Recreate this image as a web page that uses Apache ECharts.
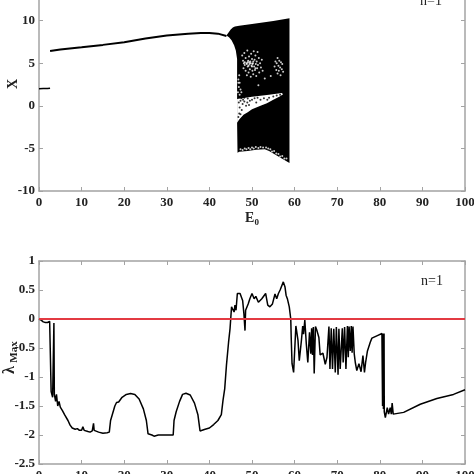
<!DOCTYPE html>
<html>
<head>
<meta charset="utf-8">
<style>html,body{margin:0;padding:0;background:#fff;overflow:hidden}#c{width:474px;height:474px;filter:blur(0.45px)}</style>
<script src="https://cdn.jsdelivr.net/npm/echarts@6/dist/echarts.min.js"></script>
</head>
<body>
<div id="c"></div>
<script>
const xTicks = [0,10,20,30,40,50,60,70,80,90,100];
const shortBranch = [[0,2],[1,2.02],[2,2.04],[2.6,2.05]];
const stableBranch = [[2.6,6.42],[5,6.6],[10,6.87],[15,7.15],[20,7.47],[25,7.9],[30,8.24],[35,8.47],[38,8.55],[40,8.55],[42,8.47],[44,8.2]];
const bandOutline = [[44,8.25],[44.5,8.6],[45,8.95],[45.5,9.2],[46,9.32],[47,9.4],[50,9.6],[55,9.95],[58.8,10.28],[58.8,-6.7],[58.2,-6.55],[57,-6.2],[56,-5.9],[55,-5.6],[54,-5.3],[53,-5.1],[51,-5.15],[49,-5.3],[47,-5.4],[46.6,-5.5],[46.5,-2],[46.5,5.5],[46.2,6.5],[45.8,7.1],[45.2,7.7],[44.6,8.05],[44,8.25]];
const wedge = [[46.5,-2],[47,-1.6],[48,-1.05],[49,-0.75],[50,-0.4],[52,0],[53.5,0.3],[55,0.7],[56.5,1.1],[57.3,1.35],[57,1.5],[54,1.3],[50,1.05],[46.5,0.8]];
const whiteSpeck = [[47.7,5.9],[47.9,5.3],[48,4.4],[48.2,6.2],[48.3,4.8],[48.5,5.6],[48.5,4.1],[48.7,5],[48.8,3.6],[48.9,6.5],[49,4.6],[49.1,5.3],[49.2,3.9],[49.3,5.8],[49.4,4.9],[49.5,4.3],[49.6,5.2],[49.7,3.4],[49.8,6.1],[49.9,4.7],[50,5.5],[50.1,4.1],[50.2,5],[50.3,3.7],[50.4,6.4],[50.5,4.6],[50.6,5.4],[50.7,4.2],[50.8,5.9],[50.9,4.9],[51,3.5],[51.1,5.2],[51.2,4.4],[51.3,6.3],[51.4,4.8],[51.6,5.6],[51.7,3.9],[51.9,5],[52.1,4.5],[52.3,5.4],[52.5,4.1],[48.3,5.1],[49.2,4.7],[49.7,5],[50.3,5.2],[50.8,4.4],[49,5.1],[50,4.6],[48.1,5],[48.8,4.9],[49.4,5.1],[50.1,4.9],[55.3,4.6],[55.5,5.2],[55.7,4.2],[55.8,5],[56,3.8],[56,5.6],[56.2,4.7],[56.3,4.1],[56.4,5.3],[56.6,4.5],[56.7,3.6],[56.8,5.1],[57,4.3],[57.1,4.9],[57.3,4],[47,3.6],[46.8,3.1],[47.1,2.7],[46.9,2.2],[47.3,1.9],[46.7,1.6],[47.1,1.3],[47.5,1.6],[46.8,2.7],[53,3.2],[54.4,3.5],[51.5,2.4],[47.3,-5.1],[47.8,-5.2],[48.3,-5],[48.7,-5.1],[49.2,-4.95],[49.6,-5.1],[50,-4.9],[50.4,-5],[50.9,-4.85],[51.5,-4.95],[52,-4.85],[52.6,-4.9],[53.3,-4.9],[53.8,-5],[54.3,-5.1],[54.7,-5.35],[55.2,-5.3],[55.7,-5.6],[56.2,-5.65],[56.6,-5.95],[57.1,-5.9],[57.6,-6.2],[58.1,-6.2]];
const blackSpeck = [[46.9,0.4],[47.3,0.6],[47.8,0.2],[47.1,-0.2],[47.6,-0.5],[47,-0.9],[46.8,-1.3],[47.3,-1],[48.2,0.5],[48.6,0],[48.9,0.4],[49.3,0.1],[49.5,0.6],[47.5,0.9],[48.2,0.95],[49,0.85],[50,0.7],[50.6,0.9],[51.3,0.95],[52,0.7],[52.8,0.9],[54,0.95],[55,1.1],[55.8,1.2],[56.6,1.3],[51,0.4],[53.6,0.7],[47.9,0.7]];
const lambdaE = [0,0.5,1,1.5,2,2.5,2.8,2.85,3.0,3.2,3.45,3.5,3.6,3.9,4.1,4.4,4.7,5,5.5,6,6.3,6.8,7.3,7.8,8.5,9,9.5,10,10.3,10.6,11.5,12,12.5,12.8,12.95,14,15,16,16.5,16.8,17.2,17.8,18.2,18.7,19.5,20.5,21.5,22.5,23.5,24.5,25.2,25.6,26.5,27,28,31.5,31.7,32.2,33,33.7,34.5,35.5,36.5,37.3,37.8,39,40,41,42,42.8,43.2,43.6,44,44.5,44.84,45.2,45.5,45.8,46,46.25,46.56,47.2,47.8,48.1,48.36,48.5,48.75,49.1,49.5,50,50.5,50.9,51.5,51.9,52.3,52.7,53.2,53.7,54.2,54.8,55.4,55.8,56.2,56.6,57.35,57.75,58,58.3,58.75,59.1,59.2,59.4,59.77,60.2,60.3,60.8,61.1,61.6,61.9,62.1,62.4,62.75,63.1,63.5,63.8,64,64.2,64.4,64.6,64.9,65.25,65.7,66,66.65,67.2,67.6,68.06,68.3,68.6,68.9,69.2,69.55,69.8,70.2,70.4,70.7,71.2,71.4,71.74,72.05,72.4,72.6,72.8,73.07,73.3,73.5,73.7,74,74.25,74.6,75.1,75.6,76.04,76.4,76.67,77.1,77.76,78.15,79.3,80.5,80.6,80.65,80.75,80.85,81,81.05,81.3,81.75,82.06,82.45,82.7,82.9,83.15,83.6,85.6,89.5,93.4,97.3,100];
const lambdaV = [0,-0.02,-0.05,-0.06,-0.06,-0.04,-0.05,-1.25,-1.25,-1.35,-1.38,-0.07,-1.3,-1.42,-1.3,-1.5,-1.42,-1.52,-1.58,-1.65,-1.63,-1.75,-1.83,-1.88,-1.9,-1.89,-1.92,-1.92,-1.86,-1.92,-1.94,-1.95,-1.93,-1.8,-1.92,-1.95,-1.97,-1.96,-1.95,-1.75,-1.65,-1.5,-1.44,-1.43,-1.35,-1.3,-1.285,-1.3,-1.38,-1.55,-1.75,-1.98,-2,-2.02,-2,-2,-1.75,-1.6,-1.42,-1.3,-1.28,-1.31,-1.45,-1.65,-1.93,-1.9,-1.88,-1.82,-1.75,-1.65,-1.4,-1.2,-0.8,-0.4,-0.17,0.21,0.24,0.12,0.24,0.15,0.44,0.44,0.32,0.09,-0.2,0.15,0.18,0.26,0.35,0.44,0.35,0.39,0.29,0.26,0.35,0.32,0.44,0.24,0.21,0.26,0.43,0.35,0.44,0.5,0.64,0.55,0.41,0.35,0.21,0,-0.31,-0.77,-0.92,-0.92,-0.12,-0.37,-0.72,-0.37,-0.12,-0.26,-0.02,-0.43,-0.75,-0.23,-0.6,-0.16,-0.62,-0.14,-0.94,-0.13,-0.2,-0.32,-0.62,-0.59,-0.78,-0.66,-0.13,-0.86,-0.16,-0.86,-0.17,-0.92,-0.14,-0.96,-0.17,-0.86,-0.16,-0.75,-0.14,-0.86,-0.12,-0.66,-0.13,-0.55,-0.12,-0.58,-0.13,-0.6,-0.75,-0.89,-0.77,-0.91,-0.63,-0.92,-0.75,-0.55,-0.4,-0.33,-0.29,-0.25,-0.25,-1.5,-0.25,-1.55,-0.25,-1.6,-1.7,-1.53,-1.64,-1.53,-1.64,-1.45,-1.64,-1.67,-1.61,-1.47,-1.37,-1.3,-1.22];
const zeroLine = [[0,0],[100,0]];
const lambdaSeries = lambdaE.map((e,i)=>[e,lambdaV[i]]);

const serif = '"Liberation Serif","Times New Roman",serif';
const axisCol = '#a3a3a3', txt = '#222';
function poly(pts, fill){
  return {type:'custom',xAxisIndex:0,yAxisIndex:0,silent:true,animation:false,data:pts,encode:{x:0,y:1},clip:false,
    renderItem:(p,api)=>{ if(p.dataIndex!==0) return;
      return {type:'polygon',shape:{points:pts.map(q=>api.coord(q))},style:{fill:fill}}; }};
}
function xA(idx,labels,extra){return Object.assign({type:'value',gridIndex:idx,min:0,max:100,interval:10,
  axisLine:{show:true,onZero:false,lineStyle:{color:axisCol,width:1.5}},
  axisTick:{show:true,inside:true,length:4,lineStyle:{color:axisCol,width:1}},splitLine:{show:false},
  axisLabel:{show:labels,color:txt,fontFamily:serif,fontWeight:'bold',fontSize:13,margin:5,hideOverlap:false,showMinLabel:true,showMaxLabel:true,
    formatter:v=>xTicks.includes(v)?String(v):''}},extra||{});}
function yA(idx,labels,min,max,iv,extra){return Object.assign({type:'value',gridIndex:idx,min:min,max:max,interval:iv,
  axisLine:{show:true,onZero:false,lineStyle:{color:axisCol,width:1.5}},
  axisTick:{show:true,inside:true,length:4,lineStyle:{color:axisCol,width:1}},splitLine:{show:false},
  axisLabel:{show:labels,color:txt,fontFamily:serif,fontWeight:'bold',fontSize:13,margin:4,showMinLabel:true,showMaxLabel:true}},extra||{});}
const lineBase = {type:'line',showSymbol:false,symbol:'none',animation:false,silent:true};
const chart = echarts.init(document.getElementById('c'),null,{renderer:'canvas'});
chart.setOption({
  animation:false,backgroundColor:'#fff',
  grid:[{left:39,right:9,top:-22,bottom:283,outerBoundsMode:'none',containLabel:false},{left:39,right:9,top:261,bottom:10,outerBoundsMode:'none',containLabel:false}],
  xAxis:[
    xA(0,true,{name:'E{s|0}',nameLocation:'middle',nameGap:19,nameTextStyle:{color:txt,fontFamily:serif,fontWeight:'bold',fontSize:14,rich:{s:{fontSize:9,fontWeight:'bold',fontFamily:serif,color:txt,verticalAlign:'bottom',padding:[8,0,0,0]}}}}),
    xA(0,false,{position:'top'}),
    xA(1,true),
    xA(1,false,{position:'top'})],
  yAxis:[
    yA(0,true,-10,15,5),
    yA(0,false,-10,15,5,{position:'right'}),
    yA(1,true,-2.5,1,0.5),
    yA(1,false,-2.5,1,0.5,{position:'right'})],
  graphic:[
    {type:'text',x:13,y:84,rotation:Math.PI/2,style:{text:'X',fill:txt,font:'bold 14px '+serif,textAlign:'center',textVerticalAlign:'middle'}},
    {type:'text',x:10,y:370,rotation:Math.PI/2,style:{text:'λ',fill:txt,font:'bold 16px '+serif,textAlign:'center',textVerticalAlign:'middle'}},
    {type:'text',x:14,y:352,rotation:Math.PI/2,style:{text:'Max',fill:txt,font:'bold 11px '+serif,textAlign:'center',textVerticalAlign:'middle'}},
    {type:'text',x:431,y:1,style:{text:'n=1',fill:txt,font:'14px '+serif,textAlign:'center',textVerticalAlign:'middle'}},
    {type:'text',x:432,y:281,style:{text:'n=1',fill:txt,font:'14px '+serif,textAlign:'center',textVerticalAlign:'middle'}}
  ],
  series:[
    Object.assign({},lineBase,{data:shortBranch,xAxisIndex:0,yAxisIndex:0,lineStyle:{color:'#000',width:1.5}}),
    Object.assign({},lineBase,{data:stableBranch,xAxisIndex:0,yAxisIndex:0,lineStyle:{color:'#000',width:2}}),
    poly(bandOutline,'#000'),
    poly(wedge,'#fff'),
    {type:'scatter',data:whiteSpeck,xAxisIndex:0,yAxisIndex:0,symbolSize:2,itemStyle:{color:'#fff'},silent:true,animation:false},
    {type:'scatter',data:blackSpeck,xAxisIndex:0,yAxisIndex:0,symbolSize:2,itemStyle:{color:'#000'},silent:true,animation:false},
    Object.assign({},lineBase,{data:lambdaSeries,xAxisIndex:2,yAxisIndex:2,lineStyle:{color:'#000',width:1.5}}),
    Object.assign({},lineBase,{data:zeroLine,xAxisIndex:2,yAxisIndex:2,lineStyle:{color:'#e33a42',width:2},z:5})
  ]
});
</script>
</body>
</html>
